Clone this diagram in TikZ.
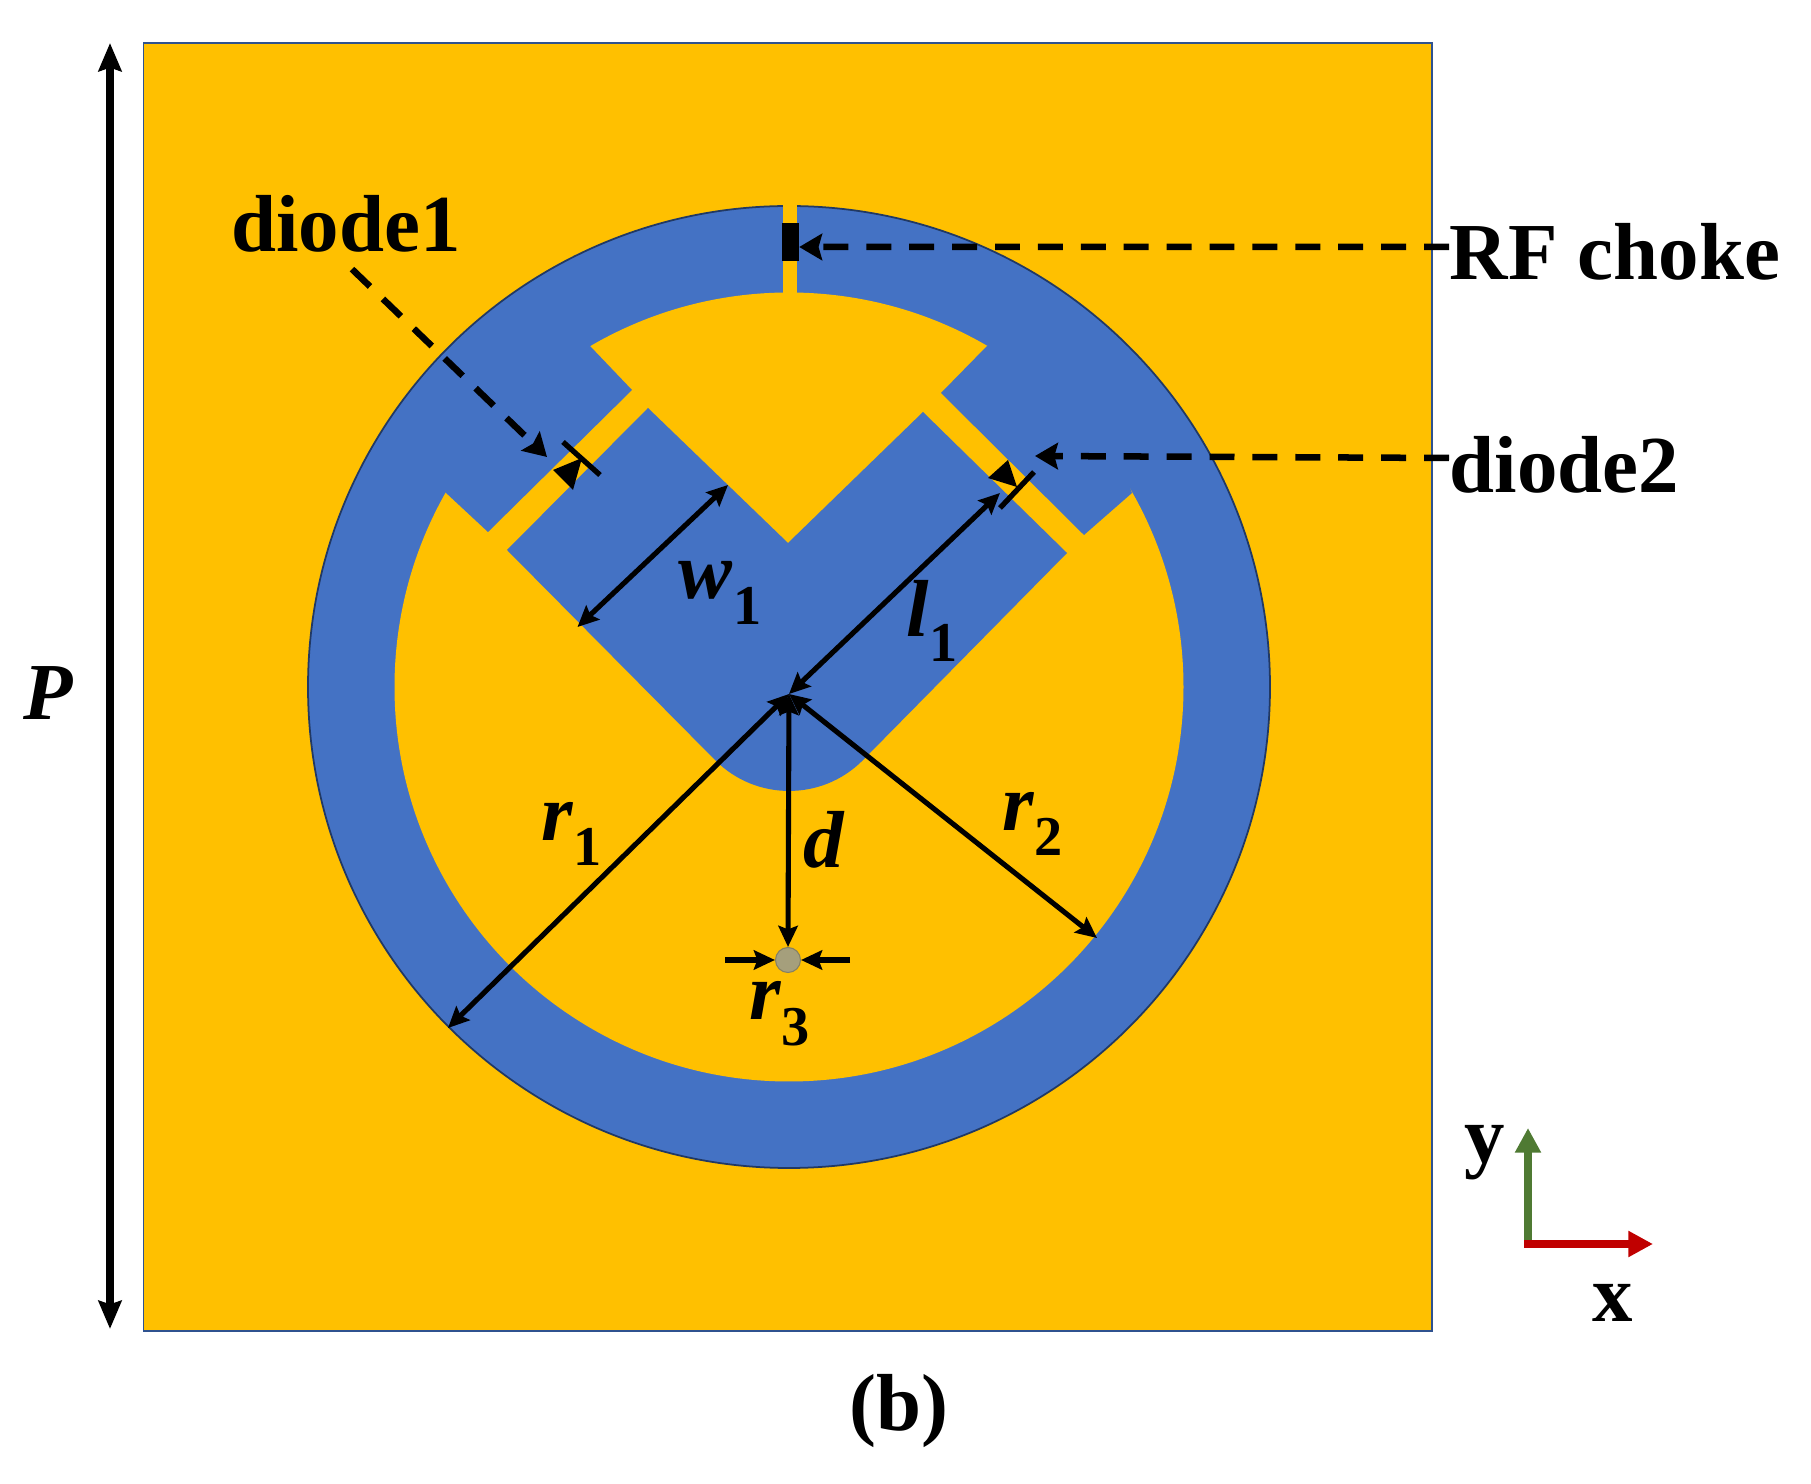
\documentclass[tikz,border=0pt]{standalone}
\usepackage{fontspec}
\usetikzlibrary{arrows.meta}
\setmainfont{Liberation Serif}
\definecolor{patchblue}{HTML}{4472C4}
\definecolor{subsyellow}{HTML}{FFC000}
\definecolor{edgeblue}{HTML}{2F528F}
\definecolor{axisgreen}{HTML}{4F7A33}
\definecolor{axisred}{HTML}{C00000}
\definecolor{viagray}{HTML}{A59F7C}
\newcommand{\symsub}[2]{\textit{#1}\raisebox{-0.32em}{\fontsize{16}{16}\selectfont #2}}
\tikzset{
	lab/.style={font=\fontsize{23}{27}\selectfont\bfseries, inner sep=0pt},
	dim/.style={<->, line width=1.45pt},
	single/.style={->, line width=1.45pt},
	leader/.style={-{Stealth[inset=1pt, length=6.5pt, width=7.5pt]}, line width=1.85pt, dash pattern=on 7.1pt off 5.1pt, line cap=butt},
	axis/.style={-{Triangle[length=7pt, width=7pt]}, line width=2.2pt},
}
\begin{document}
	\begin{tikzpicture}[x=0.01cm, y=0.01cm, line join=miter, >={Stealth[inset=1pt, length=6pt, width=5.5pt]}]
		\def\ox{789} \def\oy{797}
		\def\rout{481} \def\rin{394.5}
		\useasboundingbox (0,0) rectangle (1811,1484);
		% substrate
		\draw[fill=subsyellow, draw=edgeblue, line width=0.4pt] (143.5,153) rectangle (1432,1441);
		% ring
		\draw[fill=patchblue, draw=edgeblue!70!black, line width=0.5pt] (\ox,\oy) circle (\rout);
		\fill[subsyellow] (\ox,\oy) circle (\rin);
		\fill[patchblue] (590,1138)--(632,1094)--(488,952)--(445,992)--(480,1084)--(540,1134)--cycle;
		\fill[patchblue] (987,1138)--(941,1091)--(1084,949)--(1132,991)--(1098,1084)--(1038,1134)--cycle;
		\fill[subsyellow] (782.5,1095) rectangle (797,1284);
		% radiating patch
		\fill[patchblue] (648,1076)--(507,934)--(715.5,723.5) arc[start angle=225, end angle=315, radius=104]
			--(1067,931)--(923,1072)--(788,941)--cycle;
		% points
		\coordinate (O) at (\ox,790);
		\coordinate (wa) at (728,999);
		\coordinate (wb) at (577.5,857);
		\coordinate (la) at (1000,991);
		\coordinate (ra) at (448,456);
		\coordinate (rb) at (1097,546);
		\node[circle, fill=viagray, draw=viagray!80!black, line width=0.3pt, minimum size=0.25cm, inner sep=0pt] (via) at (788,524) {};
		\coordinate (ta) at (725,524);
		\coordinate (tb) at (850,524);
		\node[fill=black, minimum width=0.17cm, minimum height=0.37cm, inner sep=0pt] (choke) at (790,1242) {};
		% labels
		\node[lab] (dione) at (346,1260) {diode1};
		\node[lab, anchor=west] (rf) at (1449,1232) {RF choke};
		\node[lab, anchor=west] (dtwo) at (1449,1019) {diode2};
		\node[lab] (P) at (48.5,791) {\textit{P}};
		\node[lab] (wlab) at (720,891) {\symsub{w}{1}};
		\node[lab] (llab) at (932,863) {\symsub{l}{1}};
		\node[lab] (ronelab) at (572,650) {\symsub{r}{1}};
		\node[lab] (rtwolab) at (1033,660) {\symsub{r}{2}};
		\node[lab] (dlab) at (824,644) {\textit{d}};
		\node[lab] (rthreelab) at (780,470) {\symsub{r}{3}};
		\node[lab] (ylab) at (1485,331) {y};
		\node[lab] (xlab) at (1613,181) {x};
		\node[lab] (blab) at (899,73) {(b)};
		% dimensions
		\draw[dim] (wa)--(wb);
		\draw[dim] (O)--(la);
		\draw[dim] (O)--(ra);
		\draw[dim] (O)--(rb);
		\draw[dim] (O)--(via.north);
		\draw[single] (ta)--(via.west);
		\draw[single] (tb)--(via.east);
		\coordinate (pa) at (110,1441);
		\coordinate (pb) at (110,155);
		\draw[{Stealth[inset=1pt, length=8pt, width=6.5pt]}-{Stealth[inset=1pt, length=8pt, width=6.5pt]}, line width=2pt] (pa)--(pb);
		% diodes
		\coordinate (dab) at (563,1042);
		\coordinate (dac) at (600,1009);
		\coordinate (dat) at (547,1027);
		\coordinate (dbb) at (1000,976);
		\coordinate (dbc) at (1034,1012);
		\coordinate (dbt) at (1035,1028);
		\fill (553,1014)--(573,994)--(582,1026)--cycle;
		\draw[line width=1.5pt] (dab)--(dac);
		\fill (988,1006)--(1008,1024)--(1017,997)--cycle;
		\draw[line width=1.5pt] (dbb)--(dbc);
		% leaders
		\draw[leader] ([shift={(6,-16)}]dione.south)--(dat);
		\draw[leader] ([yshift=0.05cm]rf.west)--([yshift=-0.05cm]choke.east);
		\draw[leader] ([yshift=0.07cm]dtwo.west)--(dbt);
		% axes
		\coordinate (A) at (1528,240);
		\coordinate (Ax) at (1653,240);
		\coordinate (Ay) at (1528,356);
		\draw[axis, axisgreen] (A)--(Ay);
		\draw[axis, axisred] ([xshift=-0.04cm]A)--(Ax);
	\end{tikzpicture}
\end{document}
